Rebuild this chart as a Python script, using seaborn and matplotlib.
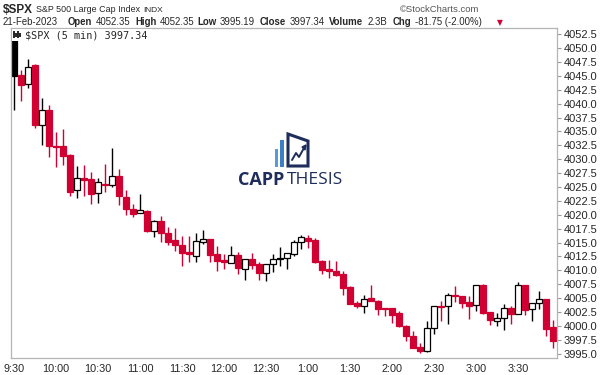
import numpy as np
import matplotlib
matplotlib.use("Agg")
import matplotlib.pyplot as plt
import seaborn as sns
from matplotlib.patches import Rectangle, Polygon

# 5-minute bars, 21-Feb-2023, 9:30 .. 3:55
opens = [4052.35, 4045.2, 4043.6, 4047.0, 4036.2, 4038.9, 4032.4, 4032.3, 4030.8, 4024.4,
         4026.6, 4026.4, 4023.9, 4025.6, 4025.3, 4027.0, 4023.2, 4021.05, 4020.4, 4020.7,
         4017.0, 4018.9, 4016.7, 4015.5, 4014.6, 4013.3, 4012.6, 4015.2, 4015.6, 4013.0,
         4011.8, 4011.4, 4012.8, 4010.3, 4012.0, 4011.2, 4009.6, 4011.1, 4012.0, 4012.3,
         4013.0, 4015.05, 4015.8, 4015.5, 4011.7, 4010.2, 4009.9, 4009.35, 4007.05, 4004.1,
         4003.5, 4005.0, 4004.5, 4003.2, 4003.2, 4002.3, 4000.0, 3998.2, 3996.2, 3995.4,
         3999.6, 4003.6, 4003.6, 4005.6, 4005.4, 4004.3, 4003.7, 4007.4, 4002.5, 4000.9,
         4001.4, 4003.2, 4002.2, 4007.4, 4003.0, 4004.1, 4004.8, 3999.8]
highs = [4052.35, 4046.0, 4048.05, 4047.2, 4041.0, 4039.8, 4034.9, 4035.4, 4031.0, 4028.8,
         4029.0, 4027.7, 4026.6, 4029.1, 4032.0, 4028.2, 4024.4, 4021.95, 4023.75, 4020.8,
         4019.0, 4019.8, 4017.75, 4017.6, 4016.2, 4016.2, 4016.7, 4017.3, 4015.7, 4014.4,
         4013.0, 4014.4, 4013.25, 4012.0, 4013.1, 4011.6, 4011.2, 4013.0, 4014.15, 4013.1,
         4015.5, 4016.4, 4016.4, 4015.8, 4011.8, 4011.9, 4011.7, 4009.9, 4007.2, 4004.5,
         4005.5, 4007.4, 4004.6, 4003.3, 4003.3, 4002.7, 4000.1, 3999.1, 3996.9, 4000.8,
         4003.5, 4004.5, 4005.9, 4007.2, 4005.4, 4005.3, 4007.4, 4007.55, 4002.5, 4002.3,
         4003.9, 4003.6, 4007.85, 4007.4, 4004.1, 4006.3, 4004.8, 4001.1]
lows = [4038.9, 4040.5, 4042.8, 4035.6, 4032.5, 4030.4, 4028.6, 4028.9, 4023.3, 4023.0,
        4023.3, 4022.0, 4022.1, 4024.2, 4025.1, 4021.8, 4020.0, 4019.7, 4020.4, 4016.9,
        4016.1, 4015.2, 4014.6, 4013.5, 4010.8, 4011.5, 4011.6, 4014.7, 4011.6, 4009.9,
        4010.3, 4011.4, 4009.4, 4008.3, 4010.3, 4008.3, 4008.1, 4009.7, 4010.8, 4010.3,
        4012.6, 4013.8, 4014.0, 4011.4, 4009.4, 4008.7, 4008.9, 4005.6, 4003.9, 4003.3,
        4002.4, 4004.4, 4002.0, 4001.8, 4000.6, 3999.8, 3997.3, 3996.0, 3995.19, 3995.3,
        3998.6, 4000.8, 4000.3, 4004.25, 4003.2, 4001.25, 4002.7, 4002.2, 4000.2, 3999.9,
        3999.3, 4000.4, 4002.2, 4002.0, 4000.9, 4003.0, 3998.2, 3996.1]
closes = [4045.0, 4043.4, 4046.6, 4036.2, 4038.8, 4032.4, 4032.2, 4030.5, 4024.1, 4026.6,
          4026.3, 4023.75, 4025.9, 4025.3, 4026.9, 4023.3, 4021.0, 4020.2, 4020.9, 4017.0,
          4018.9, 4016.7, 4015.2, 4014.5, 4013.2, 4012.9, 4015.2, 4015.6, 4012.8, 4011.7,
          4011.5, 4012.7, 4010.5, 4012.0, 4011.0, 4009.6, 4011.15, 4012.0, 4012.2, 4013.1,
          4015.05, 4015.95, 4015.3, 4011.6, 4010.1, 4009.8, 4009.2, 4006.9, 4004.0, 4003.5,
          4004.8, 4004.5, 4003.1, 4003.0, 4002.0, 3999.9, 3998.1, 3996.1, 3995.5, 3999.6,
          4003.5, 4003.45, 4005.6, 4005.3, 4004.2, 4003.6, 4007.4, 4002.4, 4001.1, 4001.4,
          4003.2, 4002.2, 4007.4, 4002.9, 4004.1, 4004.8, 3999.5, 3997.34]
time_labels = ["9:30", "10:00", "10:30", "11:00", "11:30", "12:00", "12:30",
               "1:00", "1:30", "2:00", "2:30", "3:00", "3:30"]

RED = "#d10032"
NAVY = "#1e2d5c"
W, H = 601, 375

sns.set_style("white")
plt.rcParams["font.family"] = ["Liberation Sans", "DejaVu Sans"]

o = np.array(opens)
hi = np.array(highs)
lo = np.array(lows)
c = np.array(closes)
x = np.arange(len(c))

hollow = c > o
red = np.r_[False, c[1:] < c[:-1]]
colors = np.where(red, RED, "black")
faces = np.where(hollow, "white", colors)
bottoms = np.minimum(o, c)
heights = np.maximum(np.abs(c - o), 0.12)

fig = plt.figure(figsize=(W / 100, H / 100), dpi=100)
ax = fig.add_axes([11 / W, 1 - 358 / H, (557 - 11) / W, (358 - 28) / H])

ax.vlines(x, lo, hi, colors=colors, linewidth=1.0, zorder=1)
ax.bar(x, heights, bottom=bottoms, width=0.78, color=faces, edgecolor=colors,
       linewidth=0.9, zorder=2)

ax.set_xlim(-0.43, 77.57)
ax.set_ylim(3994.23, 4053.63)
ax.yaxis.tick_right()
yt = np.arange(3995.0, 4052.6, 2.5)
ax.set_yticks(yt)
ax.set_yticklabels([f"{v:.1f}" for v in yt], fontsize=8)
ax.set_xticks(x[::6])
ax.set_xticklabels(time_labels, fontsize=7.8)
ax.tick_params(axis="y", length=3, width=0.8, color="#999999", pad=1.5, right=True, left=False)
ax.tick_params(axis="x", length=0, pad=4)
for s in ax.spines.values():
    s.set_color("#b5b5b5")
    s.set_linewidth(0.9)

# overlay in pixel coordinates for header, legend and watermark
ov = fig.add_axes([0, 0, 1, 1], facecolor="none")
ov.set_xlim(0, W)
ov.set_ylim(H, 0)
ov.axis("off")

renderer = fig.canvas.get_renderer()


def chain(items, y, size, start):
    # place text pieces left to right, never letting one overlap the previous
    end = 0
    for txt, bold, px, fs in items:
        t = ov.text(max(px, end + 3), y, txt, fontsize=fs or size, va="center",
                    fontweight="bold" if bold else "normal")
        end = t.get_window_extent(renderer).x1
    return end


chain([("$SPX", True, 3, 8.5), ("S&P 500 Large Cap Index", False, 32, 6.4),
       ("INDX", False, 119, 6.0)], 10, 6.4, 3)
ov.text(479, 10, "©StockCharts.com", fontsize=6.8, va="center", ha="right", color="#555555")

line2 = [("21-Feb-2023", False, 3, None), ("Open", True, 68, None), ("4052.35", False, 96, None),
         ("High", True, 135, None), ("4052.35", False, 158, None), ("Low", True, 197, None),
         ("3995.19", False, 217, None), ("Close", True, 260, None), ("3997.34", False, 290, None),
         ("Volume", True, 329, None), ("2.3B", False, 368, None), ("Chg", True, 393, None),
         ("-81.75 (-2.00%)", False, 414, None)]
end2 = chain(line2, 22, 6.9, 3)
ov.text(max(497, end2 + 1), 22.5, "▼", fontsize=5.5, va="center", color=RED,
        family=["DejaVu Sans"])

# legend box over the first candle
ov.add_patch(Rectangle((12, 29), 140, 11.5, facecolor="white", edgecolor="none", zorder=3))
for k, (t, b) in enumerate([(31, 38), (33, 37), (31, 38), (33, 37)]):
    ov.vlines(14 + 2 * k, t, b, color="black", linewidth=1.2, zorder=4)
ov.text(25, 35, "$SPX (5 min) 3997.34", fontsize=7.3, va="center",
        family=["DejaVu Sans Mono"], zorder=5)

# watermark logo
ov.add_patch(Rectangle((275, 149), 3.2, 18, facecolor="#5a9ad6", edgecolor="none"))
ov.add_patch(Rectangle((280, 140), 4, 27, facecolor="#3d7fc6", edgecolor="none"))
ov.add_patch(Polygon([(288, 134), (308, 141), (308, 166), (288, 166)], closed=True,
                     facecolor="none", edgecolor=NAVY, linewidth=2.2))
ov.plot([292, 296, 299, 304], [160, 153, 157, 148], color=NAVY, linewidth=1.4)
ov.add_patch(Polygon([(302, 147), (306, 145), (305, 150)], closed=True,
                     facecolor=NAVY, edgecolor=NAVY))
ov.text(238, 180, "CAPP", fontsize=13, fontweight="bold", color=NAVY,
        va="center", family=["Open Sans", "DejaVu Sans"])
ov.text(287, 180, "THESIS", fontsize=12.5, color=NAVY, va="center",
        family=["Open Sans", "DejaVu Sans"])

fig.savefig("out.png", dpi=100)
